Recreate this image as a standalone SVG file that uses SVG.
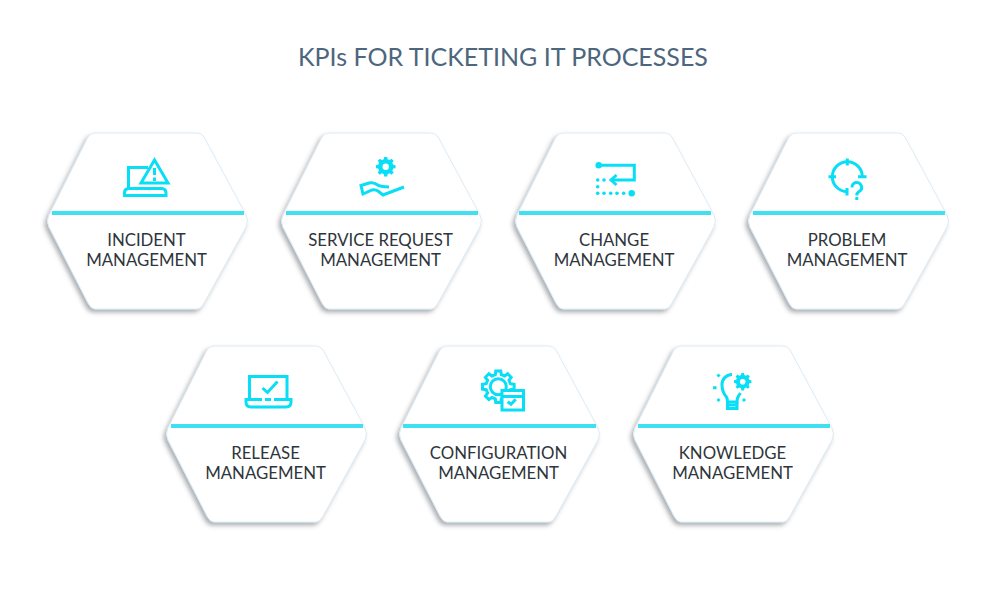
<svg xmlns="http://www.w3.org/2000/svg" xmlns:xlink="http://www.w3.org/1999/xlink" width="1000" height="600" viewBox="0 0 1000 600">
<style>
text{font-family:Lato,"Open Sans",sans-serif;text-anchor:middle}
.t{font-size:16.800px;fill:#2e353b}
.title{font-size:25px;fill:#4c667e}
.hex{fill:#fff;stroke:#dcebf6;stroke-width:1;stroke-linejoin:round;filter:url(#sh)}
.bar{fill:#3fe0f2}
.i{fill:none;stroke:#08def5;stroke-width:3;stroke-linejoin:miter}
.f{fill:#08def5;stroke:none}
</style>
<defs>
<filter id="sh" x="-15%" y="-15%" width="130%" height="130%">
<feDropShadow dx="-2.500" dy="3" stdDeviation="2.200" flood-color="#4a525a" flood-opacity=".45"/>
</filter>
<path id="hexagon" d="M-52-88H50Q54-88 57-84L99-6Q102 0 99 6L57 82Q54 88 50 88H-52Q-56 88-59 82L-98 6Q-101 0-98-6L-59-84Q-56-88-52-88Z" class="hex"/>
<path id="gear" d="M12.100-3L15.800-2.500V2.500L12.100 3L10.700 6.400L12.900 9.400L9.400 12.900L6.400 10.700L3 12.100L2.500 15.800H-2.500L-3 12.100L-6.400 10.700L-9.400 12.900L-12.900 9.400L-10.700 6.400L-12.100 3L-15.800 2.500V-2.500L-12.100-3L-10.700-6.400L-12.900-9.400L-9.400-12.900L-6.400-10.700L-3-12.100L-2.500-15.800H2.500L3-12.100L6.400-10.700L9.400-12.900L12.900-9.400L10.700-6.400Z"/>
</defs>
<rect width="1000" height="600" fill="#fff"/>
<text class="title" x="503" y="66">KPIs FOR TICKETING IT PROCESSES</text>

<g id="incident">
<use href="#hexagon" x="147" y="221"/>
<rect class="bar" x="52" y="211" width="192" height="4"/>
<g class="i">
<path d="M148 167.500H128.500V188"/>
<path d="M154.500 160L141 183H168Z"/>
<path d="M128 188.500H162Q166 189 166 193V195.500H124.500V193Q124.500 189 128 188.500Z"/>
<path d="M154.500 168V175M154.500 177.500V181"/>
</g>
<text class="t" x="146.500" y="246">INCIDENT</text><text class="t" x="146.500" y="266">MANAGEMENT</text>
</g>

<g id="service-request">
<use href="#hexagon" x="381" y="221"/>
<rect class="bar" x="286" y="211" width="192" height="4"/>
<use href="#gear" class="f" transform="translate(385.700 166.700) scale(.62)"/>
<circle cx="385.700" cy="166.700" r="3.200" fill="#fff"/>
<g class="i">
<path d="M389 187Q380 187 376 184Q373 182 369 183L361 185.500L363 194L372 190Q375 189 378 191L383 195L404 187"/>
</g>
<text class="t" x="380.500" y="246">SERVICE REQUEST</text><text class="t" x="380.500" y="266">MANAGEMENT</text>
</g>

<g id="change">
<use href="#hexagon" x="615" y="221"/>
<rect class="bar" x="519" y="211" width="192" height="4"/>
<g class="i">
<path d="M598 165.300H634.300V180H612"/>
<path d="M616.500 175L611 180L616.500 185"/>
</g>
<g class="f">
<circle cx="598.700" cy="165.300" r="3.200"/>
<circle cx="597.700" cy="180" r="1.800"/><circle cx="604" cy="180" r="1.800"/>
<circle cx="597.700" cy="186.700" r="1.800"/>
<circle cx="597.700" cy="193.300" r="1.800"/><circle cx="604" cy="193.300" r="1.800"/><circle cx="610.700" cy="193.300" r="1.800"/><circle cx="617" cy="193.300" r="1.800"/><circle cx="623.700" cy="193.300" r="1.800"/>
<circle cx="631.700" cy="193.300" r="3.200"/>
</g>
<text class="t" x="614" y="246">CHANGE</text><text class="t" x="614" y="266">MANAGEMENT</text>
</g>

<g id="problem">
<use href="#hexagon" x="848" y="221"/>
<rect class="bar" x="753" y="211" width="192" height="4"/>
<g class="i">
<path d="M862.300 176.700A15 15 0 1 0 847.300 191.700"/>
<path d="M847.300 158.500V165.500M828.500 176.700H836M858 176.700H866.500M847 188V195.500"/>
<path d="M852 187.500A4.800 4.800 0 1 1 859 191.500Q856.800 193 856.800 195.500"/>
<path d="M856.800 197V200"/>
</g>
<text class="t" x="847" y="246">PROBLEM</text><text class="t" x="847" y="266">MANAGEMENT</text>
</g>

<g id="release">
<use href="#hexagon" x="266" y="434"/>
<rect class="bar" x="171" y="424" width="192" height="4"/>
<g class="i">
<path d="M249.500 399V376.500H287V399"/>
<path d="M262 399.500H246V402Q246 407 251 407H286Q291 407 291 402V399.500H274M265 399.500H271"/>
<path d="M262.500 388L267.500 392.500L277.500 381.500"/>
</g>
<text class="t" x="265.500" y="459">RELEASE</text><text class="t" x="265.500" y="479">MANAGEMENT</text>
</g>

<g id="configuration">
<use href="#hexagon" x="499" y="434"/>
<rect class="bar" x="403" y="424" width="193" height="4"/>
<g class="i">
<use href="#gear" transform="translate(498.300 386.700)"/>
<circle cx="498.300" cy="386.700" r="8"/>
<rect x="502" y="390.500" width="21.500" height="19.500" fill="#fff"/>
<path d="M502 396.500H523.500"/>
<path d="M507.700 401.700L511 404.300L515.700 399.300"/>
</g>
<text class="t" x="498.500" y="459">CONFIGURATION</text><text class="t" x="498.500" y="479">MANAGEMENT</text>
</g>

<g id="knowledge">
<use href="#hexagon" x="733" y="434"/>
<rect class="bar" x="638" y="424" width="192" height="4"/>
<use href="#gear" class="f" transform="translate(742.700 381.700) scale(.55)"/>
<circle cx="742.700" cy="381.700" r="2.800" fill="#fff"/>
<g class="i">
<path d="M732 374.500A10 10 0 0 0 722 385Q722 392 726.500 397Q727.500 399 727.500 402H737Q737 398 738.500 396L740.500 393"/>
<path d="M727.500 402V408.500H737V402M727.500 405H737"/>
<path d="M717.500 374.500L719.500 376.500M713 387.700H716.500M717.500 401L719.500 399M745 401L743 399"/>
</g>
<text class="t" x="732.500" y="459">KNOWLEDGE</text><text class="t" x="732.500" y="479">MANAGEMENT</text>
</g>
</svg>
